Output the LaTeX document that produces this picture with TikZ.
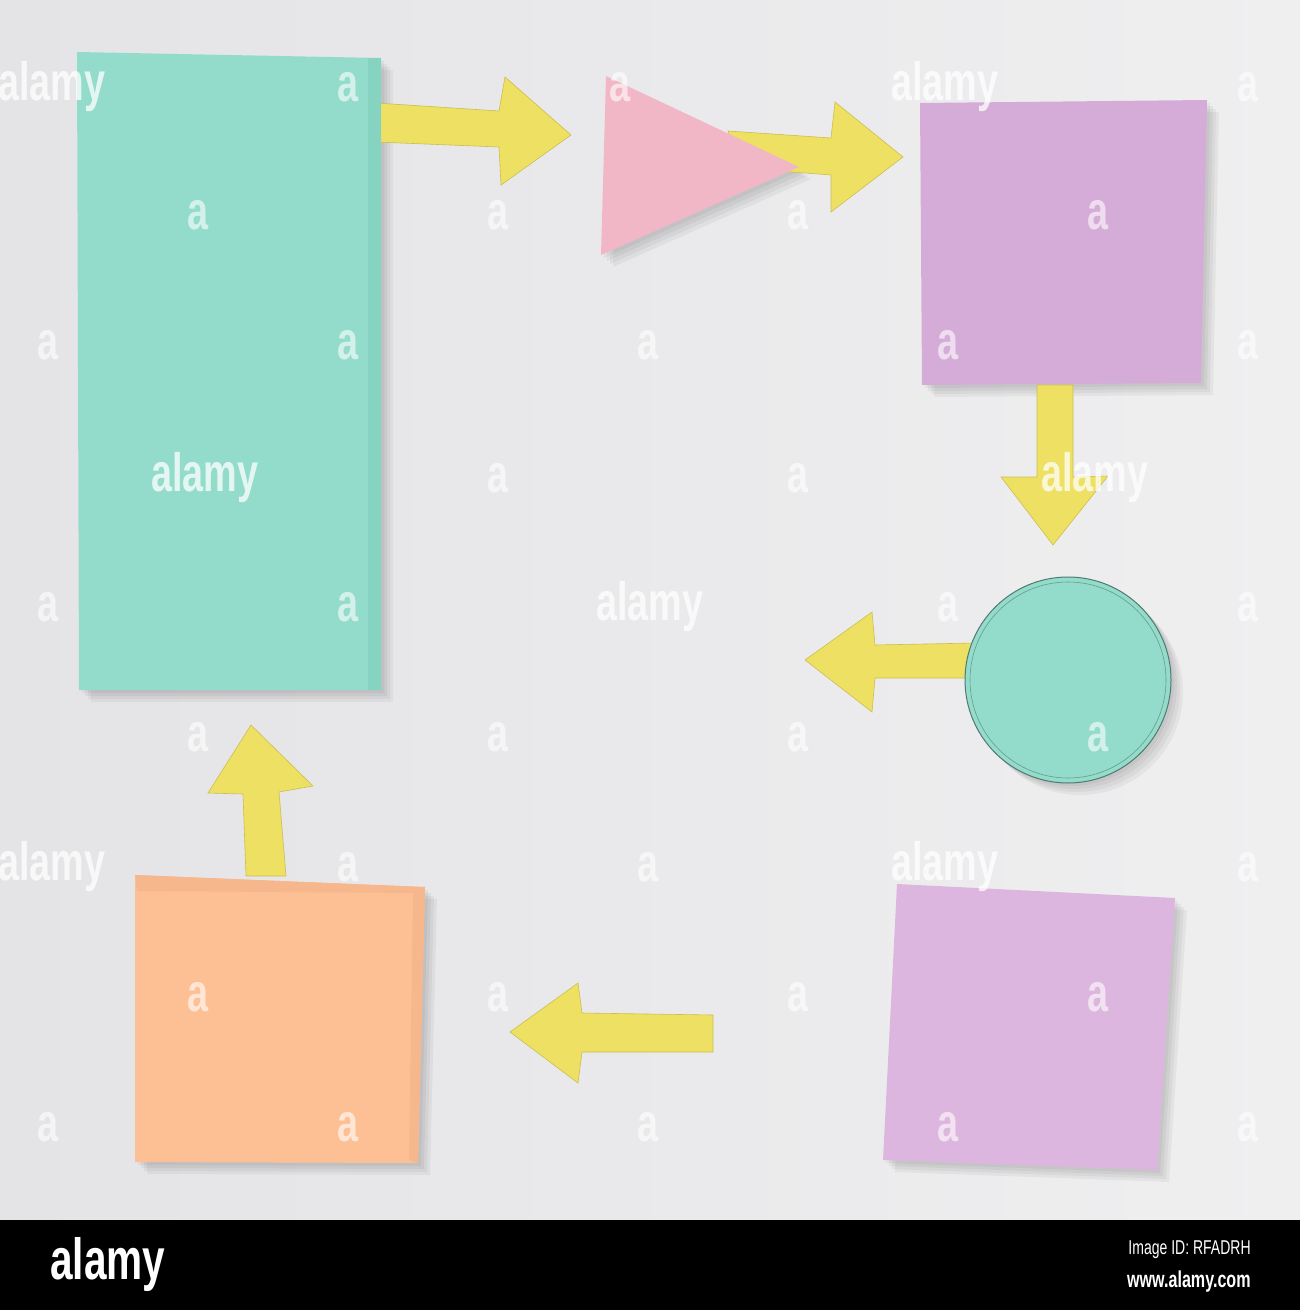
\documentclass[tikz,border=0pt]{standalone}
\usepackage{fontspec}
\newfontfamily\wmfont[FakeStretch=0.7]{Liberation Sans}
\usetikzlibrary{shapes.geometric}
\definecolor{bgA}{HTML}{E4E4E7}
\definecolor{bgB}{HTML}{EFEFF0}
\definecolor{mint}{HTML}{93DCCB}
\definecolor{mintdark}{HTML}{86D3C1}
\definecolor{pinkp}{HTML}{F2B7C7}
\definecolor{purp}{HTML}{D5ACD7}
\definecolor{purpB}{HTML}{DCB6DE}
\definecolor{orangep}{HTML}{FDBF94}
\definecolor{orangedark}{HTML}{F6B78C}
\definecolor{yel}{HTML}{EEE062}
\tikzset{
  shadowfill/.style={fill=black,opacity=0.045},
  arrowpaper/.style={fill=yel,draw=yel!85!black,line width=0.3pt},
  wmbig/.style={text=white,opacity=0.75,font=\wmfont\bfseries\fontsize{27}{27}\selectfont,inner sep=0pt},
  wma/.style={text=white,opacity=0.6,font=\wmfont\bfseries\fontsize{27}{27}\selectfont,inner sep=0pt},
}
\begin{document}
\begin{tikzpicture}[x=0.5pt,y=-0.5pt]
\useasboundingbox (0,0) rectangle (1300,1310);
% background
\shade[left color=bgA,right color=bgB] (0,0) rectangle (1300,1220);
\fill[black] (0,1220) rectangle (1300,1310);

% ---- soft shadows
\foreach \d in {3,6,9,12}{
  \fill[shadowfill] (77+\d,52+\d) -- (381+\d,58+\d) -- (381+\d,690+\d) -- (79+\d,690+\d) -- cycle;
  \fill[shadowfill] (920+\d,103+\d) -- (1207+\d,100+\d) -- (1201+\d,383+\d) -- (922+\d,385+\d) -- cycle;
  \fill[shadowfill] (135+\d,875+\d) -- (425+\d,887+\d) -- (418+\d,1163+\d) -- (135+\d,1162+\d) -- cycle;
  \fill[shadowfill] (897+\d,884+\d) -- (1175+\d,898+\d) -- (1157+\d,1170+\d) -- (883+\d,1160+\d) -- cycle;
  \fill[shadowfill] (1068+\d,680+\d) circle (103);
  \fill[shadowfill] (606+\d,76+\d) -- (799+\d,167+\d) -- (601+\d,255+\d) -- cycle;
}

% ---- arrows (paper cut-outs)
\fill[arrowpaper] (376,103) -- (499,111) -- (505,77) -- (571,135) -- (501,185) -- (499,147) -- (376,142) -- cycle;
\fill[arrowpaper] (728,131) -- (831,138) -- (835,102) -- (903,157) -- (831,212) -- (831,175) -- (740,168) -- cycle;
\fill[arrowpaper] (1037,385) -- (1073,385) -- (1073,477) -- (1108,476) -- (1053,545) -- (1001,477) -- (1037,477) -- cycle;
\fill[arrowpaper] (975,643) -- (875,645) -- (872,612) -- (805,660) -- (872,712) -- (875,678) -- (975,678) -- cycle;
\fill[arrowpaper] (713,1015) -- (713,1052) -- (582,1052) -- (578,1083) -- (510,1032) -- (578,983) -- (582,1013) -- cycle;
\fill[arrowpaper] (246,876) -- (243,794) -- (208,793) -- (251,725) -- (313,786) -- (279,792) -- (286,876) -- cycle;

% ---- shapes
% teal rectangle
\fill[mint] (77,52) -- (381,58) -- (381,690) -- (79,690) -- cycle;
\fill[mintdark] (368,58) -- (381,58) -- (381,690) -- (368,690) -- cycle;
\node[inner sep=0pt] (tealbox) at (229,371) {};
% triangle
\fill[pinkp] (606,76) -- (799,167) -- (601,255) -- cycle;
\node[inner sep=0pt] (tri) at (669,166) {};
% purple square top
\fill[purp] (920,103) -- (1207,100) -- (1201,383) -- (922,385) -- cycle;
\node[inner sep=0pt] (sqtop) at (1063,243) {};
% circle
\node[circle,fill=mint,draw=mint!55!black,line width=0.5pt,minimum size=103pt,inner sep=0pt] (circ) at (1068,680) {};
\draw[mint!70!black,line width=0.3pt] (circ.center) circle (98);
% orange square
\fill[orangep] (135,875) -- (425,887) -- (418,1163) -- (135,1162) -- cycle;
\fill[orangedark] (135,875) -- (425,887) -- (423,893) -- (137,891) -- cycle;
\fill[orangedark] (413,891) -- (425,887) -- (418,1163) -- (409,1160) -- cycle;
\node[inner sep=0pt] (sqorange) at (280,1018) {};
% purple square bottom
\fill[purpB] (897,884) -- (1175,898) -- (1157,1170) -- (883,1160) -- cycle;
\node[inner sep=0pt] (sqbottom) at (1028,1028) {};

% ---- watermarks
\foreach \x/\y in {52/87,945/87,205/478,1095/478,650/607,52/867,945/867}{
  \node[wmbig] at (\x,\y) {alamy};
}
\foreach \x/\y in {348/87,620/87,1248/87,
  198/215,498/215,798/215,1098/215,
  48/345,348/345,648/345,948/345,1248/345,
  498/478,798/478,
  48/607,348/607,948/607,1248/607,
  198/737,498/737,798/737,1098/737,
  348/867,648/867,1248/867,
  198/997,498/997,798/997,1098/997,
  48/1127,348/1127,648/1127,948/1127,1248/1127}{
  \node[wma] at (\x,\y) {a};
}

% ---- bottom bar
\node[text=white,font=\wmfont\bfseries\fontsize{29}{29}\selectfont,inner sep=0pt,anchor=west] (logo) at (50,1264) {alamy};
\node[text=white,font=\wmfont\fontsize{10}{10}\selectfont,inner sep=0pt,anchor=east] (imgid) at (1251,1250) {Image ID: RFADRH};
\node[text=white,font=\wmfont\bfseries\fontsize{11.5}{11.5}\selectfont,inner sep=0pt,anchor=east] (url) at (1251,1282) {www.alamy.com};
\end{tikzpicture}
\end{document}
